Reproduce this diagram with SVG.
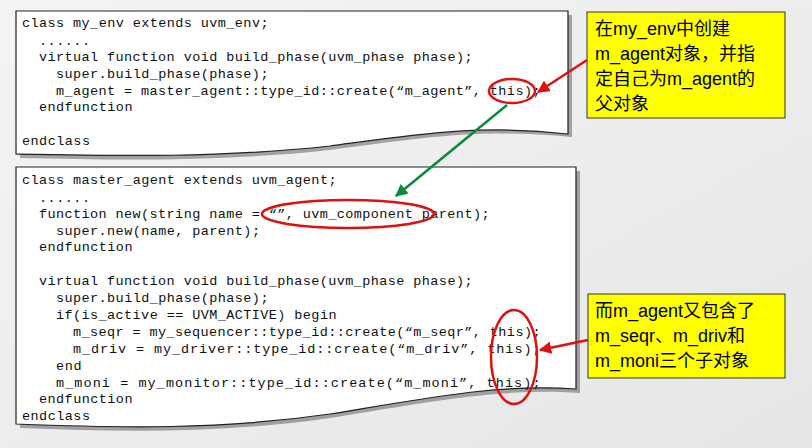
<svg xmlns="http://www.w3.org/2000/svg" width="812" height="448" viewBox="0 0 812 448">
<defs>
<style>
.code{font-family:'Liberation Mono','Courier New','DejaVu Sans Mono',monospace;font-size:13.5px;fill:#111}
.note{font-family:'Liberation Sans','Noto Sans CJK SC',sans-serif;font-size:18px;fill:#000}
.paper{fill:#fff;stroke:#222;stroke-width:1.2}
.shadow{fill:#555;opacity:0.5}
.ell{fill:none;stroke:#e01010;stroke-width:2.5}
.call{fill:#ffff00;stroke:#333;stroke-width:1}
</style>
<marker id="ar" viewBox="0 0 10 10" refX="9" refY="5" markerWidth="5" markerHeight="5" orient="auto"><path d="M0,0L10,5L0,10z" fill="#e01010"/></marker>
<marker id="ag" viewBox="0 0 10 10" refX="9" refY="5" markerWidth="5" markerHeight="5" orient="auto"><path d="M0,0L10,5L0,10z" fill="#0a8a3a"/></marker>
<linearGradient id="bg" x1="0" y1="0" x2="1" y2="1"><stop offset="0" stop-color="#f4f4f4"/><stop offset="1" stop-color="#e6e6e6"/></linearGradient>
</defs>
<rect width="812" height="448" fill="url(#bg)"/>
<g id="env" xml:space="preserve">
<path class="shadow" d="M20,15H572V137C480,128 420,138 330,150C220,162 120,160 20,158Z"/>
<path class="paper" d="M16,11H568V134C480,124 420,134 330,146C220,158 120,156 16,154Z"/>
<text class="code" x="22" y="27" textLength="246.5" lengthAdjust="spacing">class my_env extends uvm_env;</text>
<text class="code" x="39" y="45" textLength="51" lengthAdjust="spacing">......</text>
<text class="code" x="39" y="61" textLength="433.5" lengthAdjust="spacing">virtual function void build_phase(uvm_phase phase);</text>
<text class="code" x="56" y="78" textLength="212.5" lengthAdjust="spacing">super.build_phase(phase);</text>
<text class="code" x="56" y="95" textLength="484.5" lengthAdjust="spacing">m_agent = master_agent::type_id::create(“m_agent”, this);</text>
<text class="code" x="39" y="111" textLength="93.5" lengthAdjust="spacing">endfunction</text>
<text class="code" x="22" y="145" textLength="68" lengthAdjust="spacing">endclass</text>
<ellipse class="ell" cx="512" cy="91" rx="23" ry="12"/>
</g>
<g id="agent" xml:space="preserve">
<path class="shadow" d="M20,171H580V393C500,388 440,400 330,418C220,434 120,432 20,428Z"/>
<path class="paper" d="M16,167H576V389C500,384 440,396 330,414C220,430 120,428 16,424Z"/>
<text class="code" x="22" y="184" textLength="314.5" lengthAdjust="spacing">class master_agent extends uvm_agent;</text>
<text class="code" x="39" y="202" textLength="51" lengthAdjust="spacing">......</text>
<text class="code" x="39" y="218" textLength="450.5" lengthAdjust="spacing">function new(string name = “”, uvm_component parent);</text>
<text class="code" x="56" y="235" textLength="204" lengthAdjust="spacing">super.new(name, parent);</text>
<text class="code" x="39" y="251" textLength="93.5" lengthAdjust="spacing">endfunction</text>
<text class="code" x="39" y="285" textLength="433.5" lengthAdjust="spacing">virtual function void build_phase(uvm_phase phase);</text>
<text class="code" x="56" y="302" textLength="212.5" lengthAdjust="spacing">super.build_phase(phase);</text>
<text class="code" x="56" y="319" textLength="280.5" lengthAdjust="spacing">if(is_active == UVM_ACTIVE) begin</text>
<text class="code" x="73" y="336" textLength="467.5" lengthAdjust="spacing">m_seqr = my_sequencer::type_id::create(“m_seqr”, this);</text>
<text class="code" x="73" y="353" textLength="467.5" lengthAdjust="spacing">m_driv =    my_driver::type_id::create(“m_driv”, this);</text>
<text class="code" x="56" y="370" textLength="25.5" lengthAdjust="spacing">end</text>
<text class="code" x="56" y="387" textLength="484.5" lengthAdjust="spacing">m_moni   =   my_monitor::type_id::create(“m_moni”, this);</text>
<text class="code" x="39" y="403" textLength="93.5" lengthAdjust="spacing">endfunction</text>
<text class="code" x="22" y="420" textLength="68" lengthAdjust="spacing">endclass</text>
<ellipse class="ell" cx="348" cy="214" rx="86" ry="14"/>
<ellipse class="ell" cx="514" cy="357" rx="23" ry="47"/>
</g>
<g id="note1">
<rect class="call" x="587" y="12" width="198" height="106"/>
<text class="note" x="595" y="35">在my_env中创建</text>
<text class="note" x="595" y="60">m_agent对象，并指</text>
<text class="note" x="595" y="85">定自己为m_agent的</text>
<text class="note" x="595" y="110">父对象</text>
</g>
<g id="note2">
<rect class="call" x="588" y="294" width="197" height="84"/>
<text class="note" x="595" y="317">而m_agent又包含了</text>
<text class="note" x="595" y="342">m_seqr、m_driv和</text>
<text class="note" x="595" y="367">m_moni三个子对象</text>
</g>
<g id="connectors">
<line x1="587" y1="60" x2="538" y2="92" stroke="#e01010" stroke-width="2.5" marker-end="url(#ar)"/>
<line x1="588" y1="340" x2="540" y2="350" stroke="#e01010" stroke-width="2.5" marker-end="url(#ar)"/>
<line x1="507" y1="105" x2="396" y2="196" stroke="#0a8a3a" stroke-width="2.5" marker-end="url(#ag)"/>
</g>
</svg>
